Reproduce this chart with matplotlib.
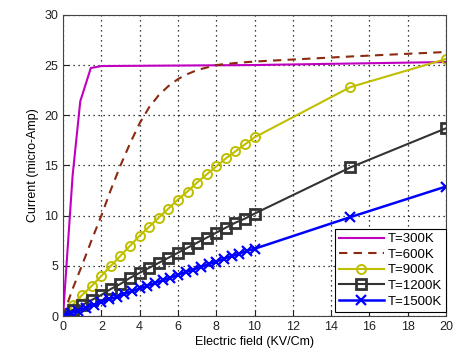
import matplotlib.pyplot as plt
import numpy as np

plt.rcParams['font.family'] = ['Liberation Sans', 'DejaVu Sans']

# T=300K
x300 = [0, 0.5, 0.9, 1.45, 2, 6, 10, 15, 20]
y300 = [0, 14.0, 21.4, 24.7, 24.9, 24.95, 25.0, 25.15, 25.3]

# T=600K
x600 = [0, 0.5, 1, 1.5, 2, 2.5, 3, 3.5, 4, 4.5, 5, 5.5, 6, 6.5, 7, 8, 9, 10, 15, 20]
y600 = [0, 2.7, 5.1, 7.6, 10.0, 12.6, 15.0, 17.2, 19.2, 20.8, 22.0, 22.9, 23.6, 24.1,
        24.5, 25.0, 25.2, 25.35, 25.85, 26.3]

# T=900K
x900 = [0, 0.5, 1, 1.5, 2, 2.5, 3, 3.5, 4, 4.5, 5, 5.5, 6, 6.5, 7, 7.5, 8, 8.5, 9, 9.5, 10, 15, 20]
y900 = [0, 1.1, 2.1, 3.0, 4.0, 5.0, 6.0, 7.0, 8.0, 8.9, 9.8, 10.7, 11.6, 12.4, 13.3,
        14.1, 14.9, 15.7, 16.4, 17.1, 17.8, 22.8, 25.6]

# T=1200K
x1200 = [0, 0.5, 1, 1.5, 2, 2.5, 3, 3.5, 4, 4.5, 5, 5.5, 6, 6.5, 7, 7.5, 8, 8.5, 9, 9.5, 10, 15, 20]
y1200 = [0, 0.6, 1.1, 1.6, 2.1, 2.7, 3.2, 3.8, 4.3, 4.8, 5.3, 5.8, 6.3, 6.8, 7.3,
         7.8, 8.3, 8.8, 9.3, 9.7, 10.2, 14.8, 18.7]

# T=1500K
x1500 = [0, 0.4, 0.8, 1.2, 1.6, 2.0, 2.4, 2.8, 3.2, 3.6, 4.0, 4.4, 4.8, 5.2, 5.6,
         6.0, 6.4, 6.8, 7.2, 7.6, 8.0, 8.4, 8.8, 9.2, 9.6, 10, 15, 20]
y1500 = [0, 0.28, 0.55, 0.82, 1.1, 1.38, 1.65, 1.92, 2.2, 2.47, 2.75, 3.0, 3.3, 3.55,
         3.82, 4.1, 4.37, 4.63, 4.9, 5.17, 5.43, 5.7, 5.96, 6.22, 6.48, 6.7, 9.85, 12.9]

fig = plt.figure(figsize=(4.74, 3.62), dpi=100)
ax = fig.add_axes([0.133, 0.127, 0.808, 0.832])

ax.plot(x300, y300, color='#c000c0', lw=1.5, label='T=300K')
ax.plot(x600, y600, color='#8b2a10', lw=1.5, ls=(0, (4, 3)), label='T=600K')
ax.plot(x900, y900, color='#bfbf00', lw=1.5, marker='o', ms=6.5, mfc='none', mew=1.4,
        label='T=900K')
ax.plot(x1200, y1200, color='#333333', lw=1.5, marker='s', ms=6.5, mfc='none', mew=2,
        label='T=1200K')
ax.plot(x1500, y1500, color='#0000ff', lw=1.8, marker='x', ms=6.5, mew=1.6,
        label='T=1500K')

ax.set_xlim(0, 20)
ax.set_ylim(0, 30)
ax.set_xticks(np.arange(0, 21, 2))
ax.set_yticks(np.arange(0, 31, 5))
ax.tick_params(direction='in', labelsize=9, colors='#222222', length=4)
ax.grid(True, ls=(0, (1, 3)), color='black', lw=0.9)
for s in ax.spines.values():
    s.set_color('#444444')

ax.set_xlabel('Electric field (KV/Cm)', fontsize=9, labelpad=2)
ax.set_ylabel('Current (micro-Amp)', fontsize=9, labelpad=4)

leg = ax.legend(loc='lower right', bbox_to_anchor=(1.0, 0.015), fontsize=9.5,
                handlelength=3.4, fancybox=False, framealpha=1, edgecolor='black',
                borderaxespad=0, labelspacing=0.25, handletextpad=0.3, borderpad=0.3)
leg.get_frame().set_linewidth(0.8)

fig.savefig('out.png', dpi=100)
